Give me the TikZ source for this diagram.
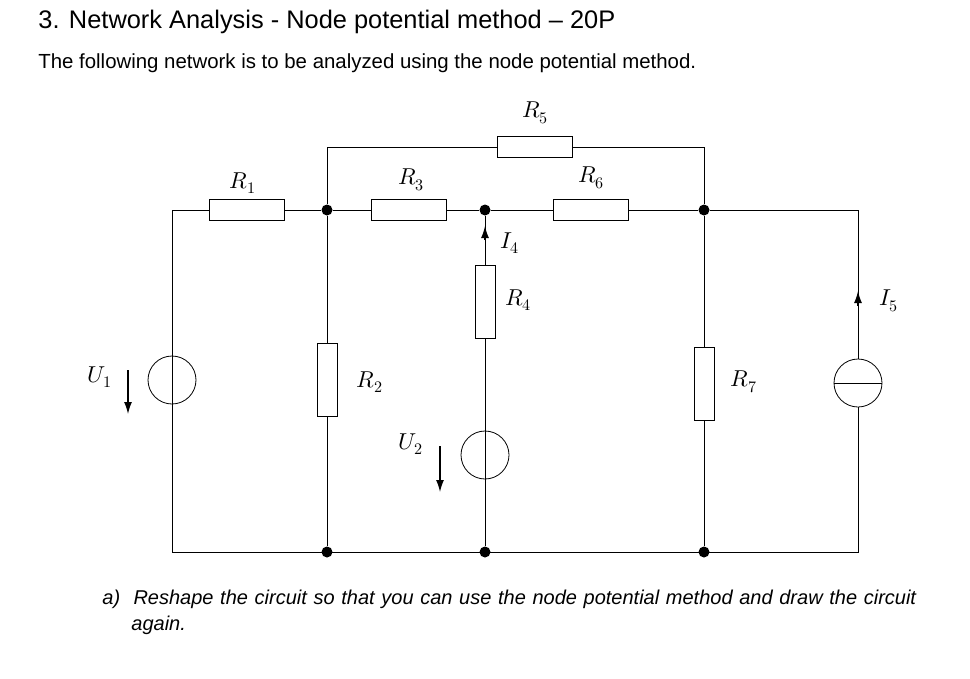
\documentclass[tikz,border=0pt]{standalone}
\usepackage{fontspec}
\setmainfont{Liberation Sans}
\usepackage{unicode-math}
\setmathfont{Latin Modern Math}
\usetikzlibrary{arrows.meta}
\tikzset{
  res/.style={draw,fill=white,minimum width=75pt,minimum height=21pt,inner sep=0pt},
  vres/.style={draw,fill=white,minimum width=20pt,minimum height=73pt,inner sep=0pt},
  src/.style={draw,circle,minimum size=48pt,inner sep=0pt},
  dot/.style={circle,fill,minimum size=11pt,inner sep=0pt},
  lbl/.style={font=\fontsize{23}{23}\selectfont},
  arr/.style={-{Latex[length=12pt,width=8pt]},line width=1.3pt}
}
\begin{document}
\begin{tikzpicture}[x=1pt,y=-1pt,line width=0.8pt]
\useasboundingbox (0,0) rectangle (970,678);
% texts
\node[anchor=west,font=\fontsize{25.4}{25.4}\selectfont,inner sep=0pt] (title) at (38,22) {3. Network Analysis - Node potential method – 20P};
\node[anchor=west,font=\fontsize{20.4}{20.4}\selectfont,inner sep=0pt] (intro) at (38,63) {The following network is to be analyzed using the node potential method.};
\node[anchor=north west,align=left,text width=860pt,font=\fontsize{20}{26}\selectfont\itshape,inner sep=0pt] (task) at (102,590)
  {a)\ \ Reshape the circuit so that you can use the node potential method and draw the circuit\\\hspace*{29pt}again.};
% corners and nodes
\coordinate (tl) at (172,210); \coordinate (bl) at (172,552);
\coordinate (tr) at (858,210); \coordinate (br) at (858,552);
\coordinate (t5a) at (327,147); \coordinate (t5b) at (704,147);
\node[dot] (n1) at (327,210) {}; \node[dot] (n2) at (485,210) {}; \node[dot] (n3) at (704,210) {};
\node[dot] (m1) at (327,552) {}; \node[dot] (m2) at (485,552) {}; \node[dot] (m3) at (704,552) {};
% wires
\draw (bl) -- (tl) -- (n1) -- (n2) -- (n3) -- (tr) -- (br) -- (bl);
\draw (n1) -- (t5a) -- (t5b) -- (n3);
\draw (n1) -- (m1); \draw (n2) -- (m2); \draw (n3) -- (m3);
% elements
\node[res] (R1) at (247,210) {}; \node[lbl] at (243,183) {$R_1$};
\node[res] (R3) at (409,210) {}; \node[lbl] at (411,180) {$R_3$};
\node[res] (R5) at (535,147) {}; \node[lbl] at (535,113) {$R_5$};
\node[res] (R6) at (591,210) {}; \node[lbl] at (591,178) {$R_6$};
\node[vres] (R2) at (327,380) {}; \node[lbl] at (370,382) {$R_2$};
\node[vres] (R4) at (485,302) {}; \node[lbl] at (518,300) {$R_4$};
\node[vres] (R7) at (704,384) {}; \node[lbl] at (744,382) {$R_7$};
\node[src] (U1) at (172,380) {}; \node[src] (U2) at (485,455) {};
\node[src,fill=white] (I5) at (858,383) {};
\draw (I5.west) -- (I5.east);
% arrows
\coordinate (a1) at (128,370); \coordinate (b1) at (128,414);
\draw[arr] (a1) -- (b1); \node[lbl] at (100,377) {$U_1$};
\coordinate (a2) at (440,446); \coordinate (b2) at (440,492);
\draw[arr] (a2) -- (b2); \node[lbl] at (411,444) {$U_2$};
\coordinate (a4) at (485,240); \coordinate (b4) at (485,226);
\draw[arr] (a4) -- (b4); \node[lbl] at (510,243) {$I_4$};
\coordinate (a5) at (858,306); \coordinate (b5) at (858,291);
\draw[arr] (a5) -- (b5); \node[lbl] at (889,301) {$I_5$};
\end{tikzpicture}
\end{document}
